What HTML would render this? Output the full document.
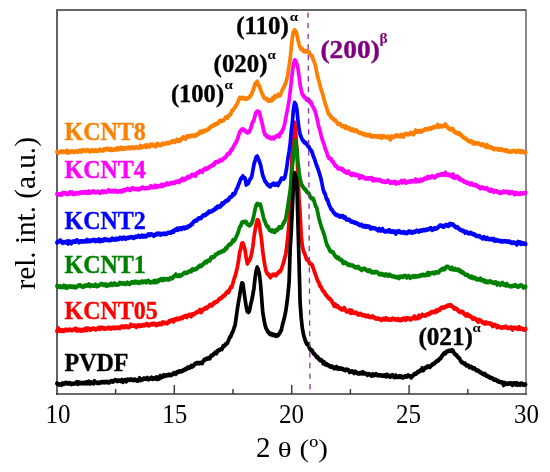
<!DOCTYPE html>
<html><head><meta charset="utf-8"><style>
html,body{margin:0;padding:0;background:#fff;width:550px;height:472px;overflow:hidden}
svg{display:block}
text{font-family:"Liberation Serif","DejaVu Serif",serif}
.b{font-weight:bold}
</style></head><body>
<svg width="550" height="472" viewBox="0 0 550 472">
<rect width="550" height="472" fill="#fff"/>
<g fill="none">
<line x1="57" y1="9" x2="57" y2="395" stroke="#5a5a5a" stroke-width="1.9"/>
<line x1="56" y1="10" x2="526.5" y2="10" stroke="#666" stroke-width="1.9"/>
<line x1="526" y1="10" x2="526" y2="394.8" stroke="#555" stroke-width="1.4"/>
<line x1="56" y1="394.1" x2="526.7" y2="394.1" stroke="#3a3a3a" stroke-width="1.5"/>
</g>
<g fill="none" stroke-width="3.7" stroke-linejoin="round" stroke-linecap="round" transform="scale(1,1.25)">
<path d="M57.00,121.46 L58.10,122.09 L59.20,122.02 L60.30,121.18 L61.40,121.28 L62.50,121.16 L63.60,121.68 L64.70,121.36 L65.80,121.73 L66.90,120.47 L68.00,122.09 L69.10,121.28 L70.20,121.63 L71.30,121.22 L72.40,121.08 L73.50,121.46 L74.60,121.61 L75.70,121.10 L76.80,121.10 L77.90,121.47 L79.00,120.70 L80.10,120.37 L81.20,121.25 L82.30,120.70 L83.40,120.06 L84.50,120.55 L85.60,120.67 L86.70,120.27 L87.80,120.08 L88.90,120.76 L90.00,121.11 L91.10,120.51 L92.20,120.21 L93.30,120.69 L94.40,120.79 L95.50,120.24 L96.60,120.58 L97.70,120.76 L98.80,120.10 L99.90,119.75 L101.00,120.25 L102.10,120.14 L103.20,120.49 L104.30,119.29 L105.40,119.53 L106.50,119.38 L107.60,118.89 L108.70,119.72 L109.80,119.85 L110.90,119.18 L112.00,120.13 L113.10,119.79 L114.20,119.63 L115.30,119.46 L116.40,119.66 L117.50,118.49 L118.60,119.35 L119.70,119.28 L120.80,118.07 L121.90,119.01 L123.00,118.65 L124.10,119.07 L125.20,118.40 L126.30,118.53 L127.40,118.62 L128.50,117.96 L129.60,118.58 L130.70,118.16 L131.80,118.37 L132.90,117.80 L134.00,118.48 L135.10,118.16 L136.20,117.70 L137.30,118.00 L138.40,118.21 L139.50,118.37 L140.60,116.66 L141.70,117.75 L142.80,117.45 L143.90,117.08 L145.00,116.55 L146.10,117.54 L147.20,116.23 L148.30,117.01 L149.40,117.26 L150.50,115.77 L151.60,116.29 L152.70,115.71 L153.80,116.35 L154.90,116.85 L156.00,116.99 L157.10,115.05 L158.20,115.51 L159.30,116.00 L160.40,116.29 L161.50,115.60 L162.60,114.91 L163.70,115.26 L164.80,114.96 L165.90,114.72 L167.00,114.29 L168.10,114.64 L169.20,114.40 L170.30,113.99 L171.40,113.70 L172.50,112.94 L173.60,113.07 L174.70,113.62 L175.80,112.69 L176.90,111.81 L178.00,112.85 L179.10,112.13 L180.20,112.53 L181.30,111.17 L182.40,110.54 L183.50,109.70 L184.60,110.68 L185.70,110.97 L186.80,109.09 L187.90,108.97 L189.00,109.40 L190.10,108.57 L191.20,108.71 L192.30,108.53 L193.40,108.63 L194.50,108.87 L195.60,108.10 L196.70,108.20 L197.80,107.15 L198.90,107.05 L200.00,105.40 L201.10,105.27 L202.20,105.90 L203.30,104.77 L204.40,104.86 L205.50,104.36 L206.60,104.25 L207.70,103.52 L208.80,103.15 L209.90,102.13 L211.00,101.37 L212.10,100.87 L213.20,100.50 L214.30,99.70 L215.40,99.47 L216.50,99.16 L217.60,98.79 L218.70,97.97 L219.80,96.68 L220.90,97.03 L222.00,96.62 L223.10,96.45 L224.20,95.59 L225.30,94.34 L226.40,93.59 L227.50,94.12 L228.60,92.60 L229.70,92.09 L230.80,91.14 L231.90,88.59 L233.00,88.00 L234.10,86.80 L235.20,85.56 L236.30,84.19 L237.40,82.55 L238.50,80.57 L239.60,78.27 L240.70,78.63 L241.80,78.25 L242.90,78.62 L244.00,78.36 L245.10,78.96 L246.20,79.11 L247.30,78.76 L248.40,78.36 L249.50,77.63 L250.60,76.59 L251.70,75.18 L252.80,72.70 L253.90,70.51 L255.00,67.47 L256.10,66.28 L257.20,65.43 L258.30,67.98 L259.40,69.03 L260.50,71.33 L261.60,73.91 L262.70,75.90 L263.80,77.89 L264.90,78.68 L266.00,79.00 L267.10,79.40 L268.20,80.68 L269.30,80.44 L270.40,80.21 L271.50,80.45 L272.60,78.51 L273.70,78.99 L274.80,76.83 L275.90,77.37 L277.00,77.04 L278.10,75.75 L279.20,76.32 L280.30,76.04 L281.40,73.79 L282.50,71.73 L283.60,70.13 L284.70,68.04 L285.80,66.04 L286.90,63.04 L288.00,59.19 L289.10,52.60 L290.20,46.82 L291.30,37.70 L292.40,29.63 L293.50,25.49 L294.60,24.21 L295.70,25.01 L296.80,27.20 L297.90,32.05 L299.00,35.04 L300.10,37.70 L301.20,39.31 L302.30,39.09 L303.40,40.88 L304.50,40.75 L305.60,41.21 L306.70,41.00 L307.80,41.15 L308.90,41.76 L310.00,43.23 L311.10,44.52 L312.20,45.09 L313.30,47.83 L314.40,49.96 L315.50,52.52 L316.60,57.41 L317.70,61.49 L318.80,64.51 L319.90,68.09 L321.00,71.42 L322.10,73.96 L323.20,76.81 L324.30,80.38 L325.40,83.25 L326.50,85.80 L327.60,88.79 L328.70,91.28 L329.80,91.83 L330.90,93.45 L332.00,94.43 L333.10,95.08 L334.20,96.02 L335.30,96.15 L336.40,97.50 L337.50,98.90 L338.60,99.04 L339.70,98.99 L340.80,100.12 L341.90,100.92 L343.00,100.95 L344.10,100.93 L345.20,102.34 L346.30,101.38 L347.40,102.59 L348.50,102.70 L349.60,102.49 L350.70,104.02 L351.80,103.95 L352.90,103.57 L354.00,104.76 L355.10,104.60 L356.20,104.21 L357.30,105.11 L358.40,105.87 L359.50,106.34 L360.60,106.39 L361.70,106.62 L362.80,107.10 L363.90,107.05 L365.00,107.98 L366.10,107.73 L367.20,108.04 L368.30,108.37 L369.40,107.80 L370.50,108.13 L371.60,109.37 L372.70,108.95 L373.80,108.80 L374.90,109.24 L376.00,108.97 L377.10,109.44 L378.20,109.08 L379.30,109.61 L380.40,108.78 L381.50,110.23 L382.60,109.40 L383.70,108.93 L384.80,109.63 L385.90,109.59 L387.00,109.88 L388.10,109.27 L389.20,110.03 L390.30,111.58 L391.40,109.17 L392.50,109.85 L393.60,109.39 L394.70,109.45 L395.80,108.29 L396.90,108.40 L398.00,108.96 L399.10,108.52 L400.20,109.16 L401.30,107.87 L402.40,108.14 L403.50,109.29 L404.60,107.37 L405.70,107.14 L406.80,107.39 L407.90,107.21 L409.00,107.46 L410.10,106.92 L411.20,106.29 L412.30,106.54 L413.40,107.47 L414.50,106.57 L415.60,104.38 L416.70,105.39 L417.80,104.79 L418.90,105.26 L420.00,104.64 L421.10,105.41 L422.20,104.67 L423.30,104.40 L424.40,103.81 L425.50,103.45 L426.60,103.39 L427.70,103.61 L428.80,103.03 L429.90,102.41 L431.00,103.02 L432.10,102.35 L433.20,102.07 L434.30,101.57 L435.40,101.49 L436.50,101.20 L437.60,99.88 L438.70,101.46 L439.80,101.09 L440.90,100.65 L442.00,101.21 L443.10,100.88 L444.20,100.82 L445.30,99.46 L446.40,100.77 L447.50,101.57 L448.60,102.63 L449.70,103.30 L450.80,103.65 L451.90,103.05 L453.00,103.24 L454.10,105.23 L455.20,105.55 L456.30,106.49 L457.40,106.42 L458.50,107.03 L459.60,106.69 L460.70,108.19 L461.80,108.41 L462.90,109.47 L464.00,110.21 L465.10,110.56 L466.20,111.37 L467.30,111.82 L468.40,112.75 L469.50,113.10 L470.60,112.97 L471.70,113.26 L472.80,114.66 L473.90,114.03 L475.00,114.79 L476.10,114.72 L477.20,114.48 L478.30,114.62 L479.40,115.28 L480.50,115.60 L481.60,116.05 L482.70,115.43 L483.80,116.04 L484.90,116.56 L486.00,117.66 L487.10,116.04 L488.20,117.65 L489.30,117.43 L490.40,118.13 L491.50,117.92 L492.60,118.56 L493.70,119.36 L494.80,118.99 L495.90,119.23 L497.00,119.40 L498.10,119.04 L499.20,119.83 L500.30,119.62 L501.40,119.47 L502.50,119.97 L503.60,120.00 L504.70,120.59 L505.80,120.32 L506.90,120.19 L508.00,121.24 L509.10,121.12 L510.20,121.35 L511.30,121.12 L512.40,120.85 L513.50,120.77 L514.60,120.91 L515.70,121.57 L516.80,121.24 L517.90,120.56 L519.00,121.33 L520.10,120.77 L521.20,121.64 L522.30,121.10 L523.40,121.21 L524.50,122.01 L525.60,122.07" stroke="#ff8000"/>
<path d="M57.00,155.20 L58.10,155.66 L59.20,155.47 L60.30,155.42 L61.40,155.80 L62.50,154.40 L63.60,154.64 L64.70,154.26 L65.80,154.80 L66.90,155.28 L68.00,154.75 L69.10,154.95 L70.20,153.75 L71.30,154.70 L72.40,154.15 L73.50,155.39 L74.60,154.92 L75.70,154.91 L76.80,154.38 L77.90,154.66 L79.00,154.64 L80.10,154.11 L81.20,153.99 L82.30,154.14 L83.40,153.86 L84.50,153.82 L85.60,153.93 L86.70,153.67 L87.80,154.35 L88.90,153.17 L90.00,154.29 L91.10,153.56 L92.20,153.55 L93.30,153.12 L94.40,153.66 L95.50,153.56 L96.60,153.73 L97.70,153.33 L98.80,153.58 L99.90,154.36 L101.00,153.64 L102.10,153.11 L103.20,153.79 L104.30,153.22 L105.40,153.51 L106.50,153.47 L107.60,152.93 L108.70,152.13 L109.80,152.83 L110.90,153.20 L112.00,152.70 L113.10,153.03 L114.20,153.22 L115.30,152.43 L116.40,153.22 L117.50,153.34 L118.60,153.01 L119.70,152.98 L120.80,152.88 L121.90,153.36 L123.00,152.30 L124.10,152.13 L125.20,152.35 L126.30,151.54 L127.40,151.15 L128.50,151.39 L129.60,151.91 L130.70,151.87 L131.80,150.82 L132.90,150.57 L134.00,151.23 L135.10,151.20 L136.20,151.17 L137.30,151.42 L138.40,151.59 L139.50,151.01 L140.60,151.10 L141.70,150.17 L142.80,150.03 L143.90,150.60 L145.00,150.70 L146.10,150.62 L147.20,150.45 L148.30,150.43 L149.40,150.33 L150.50,148.99 L151.60,149.37 L152.70,149.82 L153.80,149.77 L154.90,148.63 L156.00,149.79 L157.10,148.89 L158.20,148.85 L159.30,148.95 L160.40,149.03 L161.50,147.83 L162.60,148.84 L163.70,148.24 L164.80,147.66 L165.90,147.72 L167.00,146.62 L168.10,147.14 L169.20,147.31 L170.30,146.64 L171.40,146.56 L172.50,146.38 L173.60,146.20 L174.70,146.38 L175.80,145.59 L176.90,145.18 L178.00,145.27 L179.10,145.70 L180.20,144.21 L181.30,144.29 L182.40,142.95 L183.50,144.01 L184.60,143.33 L185.70,143.30 L186.80,142.28 L187.90,141.45 L189.00,142.01 L190.10,141.59 L191.20,140.44 L192.30,139.77 L193.40,140.31 L194.50,139.63 L195.60,140.57 L196.70,138.62 L197.80,138.25 L198.90,138.02 L200.00,136.85 L201.10,136.78 L202.20,137.55 L203.30,136.24 L204.40,135.55 L205.50,134.76 L206.60,135.17 L207.70,134.73 L208.80,134.03 L209.90,133.21 L211.00,133.02 L212.10,132.53 L213.20,131.49 L214.30,131.58 L215.40,129.74 L216.50,129.62 L217.60,129.58 L218.70,129.19 L219.80,128.20 L220.90,128.41 L222.00,128.19 L223.10,127.25 L224.20,126.42 L225.30,125.93 L226.40,124.90 L227.50,123.29 L228.60,122.83 L229.70,122.56 L230.80,120.33 L231.90,119.74 L233.00,118.22 L234.10,116.49 L235.20,114.80 L236.30,113.52 L237.40,111.34 L238.50,108.86 L239.60,105.85 L240.70,104.74 L241.80,103.62 L242.90,103.52 L244.00,103.86 L245.10,104.61 L246.20,105.40 L247.30,106.00 L248.40,105.61 L249.50,105.27 L250.60,102.90 L251.70,99.82 L252.80,97.51 L253.90,96.32 L255.00,92.48 L256.10,90.02 L257.20,89.20 L258.30,89.39 L259.40,90.02 L260.50,93.76 L261.60,96.90 L262.70,100.62 L263.80,104.70 L264.90,107.42 L266.00,108.19 L267.10,109.26 L268.20,109.79 L269.30,109.65 L270.40,110.38 L271.50,110.66 L272.60,110.16 L273.70,110.76 L274.80,109.81 L275.90,109.35 L277.00,108.59 L278.10,108.43 L279.20,109.05 L280.30,106.64 L281.40,106.08 L282.50,104.14 L283.60,102.43 L284.70,99.16 L285.80,94.45 L286.90,89.85 L288.00,85.44 L289.10,80.12 L290.20,73.58 L291.30,65.22 L292.40,57.27 L293.50,51.69 L294.60,48.37 L295.70,48.78 L296.80,51.31 L297.90,54.36 L299.00,60.68 L300.10,67.64 L301.20,71.87 L302.30,75.36 L303.40,76.47 L304.50,77.81 L305.60,78.43 L306.70,80.01 L307.80,79.74 L308.90,79.81 L310.00,82.00 L311.10,81.86 L312.20,84.42 L313.30,86.02 L314.40,87.64 L315.50,89.84 L316.60,93.52 L317.70,97.20 L318.80,101.73 L319.90,103.80 L321.00,107.93 L322.10,111.30 L323.20,113.83 L324.30,115.95 L325.40,119.20 L326.50,121.35 L327.60,124.23 L328.70,126.15 L329.80,126.83 L330.90,127.01 L332.00,128.88 L333.10,129.53 L334.20,131.25 L335.30,132.62 L336.40,132.78 L337.50,134.37 L338.60,134.83 L339.70,135.07 L340.80,134.84 L341.90,135.84 L343.00,135.54 L344.10,137.16 L345.20,137.12 L346.30,138.10 L347.40,137.95 L348.50,137.23 L349.60,138.81 L350.70,139.29 L351.80,139.97 L352.90,139.03 L354.00,139.36 L355.10,140.14 L356.20,139.89 L357.30,140.00 L358.40,140.40 L359.50,142.41 L360.60,141.08 L361.70,141.10 L362.80,141.57 L363.90,141.97 L365.00,142.77 L366.10,142.78 L367.20,142.87 L368.30,142.68 L369.40,142.91 L370.50,142.70 L371.60,142.46 L372.70,144.34 L373.80,143.32 L374.90,144.20 L376.00,143.73 L377.10,144.00 L378.20,144.13 L379.30,143.69 L380.40,144.46 L381.50,144.83 L382.60,145.19 L383.70,145.17 L384.80,145.57 L385.90,145.35 L387.00,145.33 L388.10,144.49 L389.20,145.26 L390.30,146.32 L391.40,145.69 L392.50,146.06 L393.60,145.63 L394.70,145.45 L395.80,146.79 L396.90,146.01 L398.00,146.58 L399.10,146.13 L400.20,145.74 L401.30,144.78 L402.40,145.86 L403.50,144.99 L404.60,144.59 L405.70,146.16 L406.80,145.81 L407.90,145.66 L409.00,145.27 L410.10,145.13 L411.20,145.26 L412.30,145.03 L413.40,144.89 L414.50,145.11 L415.60,143.46 L416.70,144.95 L417.80,144.09 L418.90,144.67 L420.00,144.68 L421.10,143.54 L422.20,144.12 L423.30,143.89 L424.40,142.92 L425.50,142.75 L426.60,142.80 L427.70,141.42 L428.80,142.04 L429.90,142.12 L431.00,141.61 L432.10,140.87 L433.20,141.27 L434.30,141.99 L435.40,141.68 L436.50,140.71 L437.60,140.08 L438.70,140.17 L439.80,139.96 L440.90,139.46 L442.00,139.45 L443.10,139.77 L444.20,139.83 L445.30,138.19 L446.40,139.89 L447.50,139.60 L448.60,140.24 L449.70,139.86 L450.80,140.33 L451.90,141.31 L453.00,139.59 L454.10,142.27 L455.20,142.00 L456.30,141.36 L457.40,141.25 L458.50,142.98 L459.60,142.66 L460.70,144.01 L461.80,144.05 L462.90,144.32 L464.00,145.30 L465.10,145.33 L466.20,145.98 L467.30,146.40 L468.40,146.52 L469.50,147.10 L470.60,147.45 L471.70,146.76 L472.80,147.63 L473.90,148.05 L475.00,148.26 L476.10,148.01 L477.20,148.82 L478.30,149.56 L479.40,149.78 L480.50,150.70 L481.60,149.94 L482.70,150.29 L483.80,150.47 L484.90,150.84 L486.00,150.94 L487.10,150.56 L488.20,151.84 L489.30,152.35 L490.40,152.61 L491.50,151.73 L492.60,152.35 L493.70,153.50 L494.80,152.73 L495.90,153.11 L497.00,153.02 L498.10,153.72 L499.20,153.82 L500.30,154.59 L501.40,153.81 L502.50,153.87 L503.60,153.15 L504.70,153.61 L505.80,153.55 L506.90,153.80 L508.00,153.39 L509.10,154.68 L510.20,153.67 L511.30,154.40 L512.40,153.76 L513.50,154.64 L514.60,155.37 L515.70,154.28 L516.80,154.93 L517.90,154.79 L519.00,155.00 L520.10,155.08 L521.20,154.57 L522.30,154.79 L523.40,154.60 L524.50,154.48 L525.60,154.29" stroke="#ff00ff"/>
<path d="M57.00,264.96 L58.10,262.59 L59.20,264.52 L60.30,264.08 L61.40,264.67 L62.50,264.21 L63.60,264.88 L64.70,264.00 L65.80,263.72 L66.90,264.23 L68.00,264.14 L69.10,263.74 L70.20,263.77 L71.30,264.21 L72.40,264.18 L73.50,263.58 L74.60,263.61 L75.70,262.89 L76.80,264.54 L77.90,263.60 L79.00,264.32 L80.10,263.85 L81.20,264.55 L82.30,264.32 L83.40,263.70 L84.50,264.22 L85.60,263.02 L86.70,264.04 L87.80,262.68 L88.90,263.51 L90.00,263.81 L91.10,263.36 L92.20,263.03 L93.30,262.77 L94.40,262.94 L95.50,263.56 L96.60,263.43 L97.70,262.83 L98.80,262.30 L99.90,263.17 L101.00,262.10 L102.10,262.49 L103.20,262.34 L104.30,263.00 L105.40,262.70 L106.50,262.75 L107.60,262.60 L108.70,262.08 L109.80,262.60 L110.90,262.96 L112.00,262.20 L113.10,262.46 L114.20,262.03 L115.30,262.52 L116.40,262.28 L117.50,262.32 L118.60,262.00 L119.70,262.55 L120.80,261.53 L121.90,261.48 L123.00,261.29 L124.10,261.80 L125.20,261.14 L126.30,261.07 L127.40,261.66 L128.50,261.81 L129.60,261.46 L130.70,259.83 L131.80,260.59 L132.90,260.47 L134.00,260.34 L135.10,260.65 L136.20,261.65 L137.30,260.56 L138.40,260.28 L139.50,260.90 L140.60,260.52 L141.70,260.47 L142.80,260.00 L143.90,260.25 L145.00,260.37 L146.10,259.17 L147.20,259.23 L148.30,260.44 L149.40,260.24 L150.50,259.51 L151.60,259.18 L152.70,259.50 L153.80,258.92 L154.90,259.24 L156.00,260.10 L157.10,259.27 L158.20,259.66 L159.30,258.88 L160.40,259.05 L161.50,259.41 L162.60,257.97 L163.70,258.31 L164.80,258.26 L165.90,258.31 L167.00,258.74 L168.10,258.09 L169.20,256.78 L170.30,257.07 L171.40,256.46 L172.50,256.12 L173.60,257.20 L174.70,255.39 L175.80,255.71 L176.90,254.96 L178.00,255.45 L179.10,254.95 L180.20,254.60 L181.30,254.26 L182.40,254.60 L183.50,253.36 L184.60,253.20 L185.70,252.75 L186.80,253.65 L187.90,252.58 L189.00,251.93 L190.10,251.92 L191.20,253.01 L192.30,251.44 L193.40,251.57 L194.50,251.04 L195.60,250.46 L196.70,249.77 L197.80,249.56 L198.90,249.16 L200.00,247.86 L201.10,249.74 L202.20,248.51 L203.30,247.67 L204.40,247.05 L205.50,246.29 L206.60,246.64 L207.70,245.59 L208.80,245.37 L209.90,243.92 L211.00,244.20 L212.10,244.39 L213.20,242.69 L214.30,242.61 L215.40,241.63 L216.50,241.53 L217.60,240.90 L218.70,239.82 L219.80,238.91 L220.90,238.67 L222.00,237.86 L223.10,236.80 L224.20,236.53 L225.30,235.68 L226.40,234.12 L227.50,233.47 L228.60,233.81 L229.70,231.55 L230.80,229.82 L231.90,229.43 L233.00,226.24 L234.10,223.15 L235.20,220.79 L236.30,217.28 L237.40,213.71 L238.50,208.83 L239.60,202.02 L240.70,199.11 L241.80,194.79 L242.90,194.65 L244.00,196.81 L245.10,200.10 L246.20,206.32 L247.30,210.84 L248.40,209.42 L249.50,208.21 L250.60,206.12 L251.70,202.60 L252.80,197.49 L253.90,190.26 L255.00,184.35 L256.10,180.02 L257.20,176.15 L258.30,176.34 L259.40,179.79 L260.50,186.11 L261.60,191.89 L262.70,200.73 L263.80,207.26 L264.90,212.44 L266.00,216.75 L267.10,218.71 L268.20,219.30 L269.30,220.52 L270.40,221.84 L271.50,220.64 L272.60,219.80 L273.70,219.74 L274.80,219.85 L275.90,220.25 L277.00,219.22 L278.10,218.21 L279.20,217.32 L280.30,216.99 L281.40,215.27 L282.50,212.70 L283.60,209.98 L284.70,206.24 L285.80,203.40 L286.90,195.93 L288.00,188.51 L289.10,176.80 L290.20,163.59 L291.30,141.32 L292.40,114.70 L293.50,104.26 L294.60,97.94 L295.70,105.16 L296.80,119.33 L297.90,140.19 L299.00,158.50 L300.10,170.56 L301.20,188.19 L302.30,196.46 L303.40,201.04 L304.50,202.29 L305.60,205.23 L306.70,207.67 L307.80,207.84 L308.90,209.31 L310.00,211.00 L311.10,211.49 L312.20,212.06 L313.30,214.71 L314.40,217.17 L315.50,219.66 L316.60,222.17 L317.70,224.63 L318.80,226.01 L319.90,228.59 L321.00,229.56 L322.10,231.54 L323.20,232.85 L324.30,233.50 L325.40,235.48 L326.50,236.54 L327.60,237.42 L328.70,238.68 L329.80,238.98 L330.90,239.88 L332.00,241.33 L333.10,242.96 L334.20,244.68 L335.30,243.65 L336.40,245.16 L337.50,244.77 L338.60,245.85 L339.70,246.57 L340.80,246.81 L341.90,247.60 L343.00,247.60 L344.10,246.42 L345.20,247.48 L346.30,249.03 L347.40,249.29 L348.50,248.86 L349.60,248.33 L350.70,250.39 L351.80,248.62 L352.90,250.05 L354.00,250.15 L355.10,250.56 L356.20,250.14 L357.30,250.77 L358.40,251.73 L359.50,251.22 L360.60,251.03 L361.70,251.91 L362.80,252.19 L363.90,252.30 L365.00,252.20 L366.10,253.05 L367.20,252.93 L368.30,252.62 L369.40,253.48 L370.50,253.55 L371.60,253.81 L372.70,253.11 L373.80,253.74 L374.90,254.50 L376.00,254.89 L377.10,254.76 L378.20,254.81 L379.30,255.21 L380.40,255.44 L381.50,255.92 L382.60,255.39 L383.70,254.99 L384.80,255.58 L385.90,254.50 L387.00,255.53 L388.10,255.34 L389.20,255.57 L390.30,255.82 L391.40,255.61 L392.50,254.89 L393.60,255.42 L394.70,255.21 L395.80,255.58 L396.90,255.77 L398.00,255.13 L399.10,255.95 L400.20,256.22 L401.30,255.45 L402.40,255.89 L403.50,254.78 L404.60,255.16 L405.70,255.80 L406.80,254.40 L407.90,254.90 L409.00,254.62 L410.10,255.50 L411.20,255.39 L412.30,254.42 L413.40,254.64 L414.50,253.18 L415.60,254.68 L416.70,254.27 L417.80,254.55 L418.90,252.58 L420.00,253.68 L421.10,253.12 L422.20,251.78 L423.30,252.42 L424.40,252.41 L425.50,252.51 L426.60,251.88 L427.70,251.19 L428.80,251.31 L429.90,250.70 L431.00,250.09 L432.10,249.54 L433.20,249.72 L434.30,249.33 L435.40,249.75 L436.50,248.24 L437.60,248.83 L438.70,247.83 L439.80,247.83 L440.90,246.45 L442.00,246.08 L443.10,245.96 L444.20,246.15 L445.30,245.41 L446.40,245.18 L447.50,244.48 L448.60,244.52 L449.70,244.15 L450.80,244.11 L451.90,245.09 L453.00,245.47 L454.10,246.87 L455.20,246.50 L456.30,247.19 L457.40,247.59 L458.50,248.90 L459.60,249.34 L460.70,249.76 L461.80,249.33 L462.90,249.67 L464.00,250.98 L465.10,251.67 L466.20,252.52 L467.30,251.44 L468.40,252.70 L469.50,252.43 L470.60,253.21 L471.70,253.97 L472.80,254.94 L473.90,254.61 L475.00,254.90 L476.10,255.45 L477.20,256.56 L478.30,257.46 L479.40,255.89 L480.50,256.81 L481.60,257.04 L482.70,258.09 L483.80,258.02 L484.90,258.82 L486.00,257.86 L487.10,258.61 L488.20,258.65 L489.30,258.59 L490.40,259.30 L491.50,259.07 L492.60,260.94 L493.70,260.37 L494.80,259.94 L495.90,260.39 L497.00,261.74 L498.10,260.90 L499.20,261.65 L500.30,261.76 L501.40,262.16 L502.50,262.08 L503.60,261.81 L504.70,261.75 L505.80,261.29 L506.90,262.23 L508.00,262.41 L509.10,262.25 L510.20,262.42 L511.30,261.96 L512.40,263.63 L513.50,262.39 L514.60,262.17 L515.70,262.41 L516.80,262.65 L517.90,263.13 L519.00,261.66 L520.10,263.13 L521.20,262.68 L522.30,263.00 L523.40,263.71 L524.50,263.75 L525.60,263.21" stroke="#ff0000"/>
<path d="M57.00,194.17 L58.10,193.34 L59.20,193.03 L60.30,192.35 L61.40,193.55 L62.50,194.29 L63.60,193.67 L64.70,193.87 L65.80,194.08 L66.90,193.13 L68.00,194.79 L69.10,193.06 L70.20,193.62 L71.30,194.72 L72.40,193.31 L73.50,193.38 L74.60,193.04 L75.70,193.41 L76.80,192.18 L77.90,192.85 L79.00,193.93 L80.10,193.18 L81.20,192.92 L82.30,193.17 L83.40,193.14 L84.50,192.97 L85.60,193.12 L86.70,192.00 L87.80,193.03 L88.90,192.37 L90.00,193.02 L91.10,192.58 L92.20,192.05 L93.30,192.44 L94.40,191.94 L95.50,192.85 L96.60,192.30 L97.70,192.66 L98.80,191.66 L99.90,192.92 L101.00,191.94 L102.10,192.68 L103.20,192.37 L104.30,191.38 L105.40,192.00 L106.50,191.53 L107.60,191.93 L108.70,192.36 L109.80,191.94 L110.90,192.06 L112.00,190.92 L113.10,191.52 L114.20,191.52 L115.30,191.81 L116.40,190.92 L117.50,191.42 L118.60,191.28 L119.70,190.27 L120.80,190.42 L121.90,191.06 L123.00,190.20 L124.10,190.09 L125.20,191.01 L126.30,190.63 L127.40,190.28 L128.50,190.34 L129.60,189.98 L130.70,189.81 L131.80,189.74 L132.90,190.03 L134.00,190.36 L135.10,189.39 L136.20,189.47 L137.30,189.28 L138.40,188.67 L139.50,189.28 L140.60,189.46 L141.70,188.53 L142.80,189.23 L143.90,188.45 L145.00,189.18 L146.10,189.12 L147.20,188.27 L148.30,187.41 L149.40,188.12 L150.50,187.54 L151.60,187.50 L152.70,187.94 L153.80,188.64 L154.90,187.86 L156.00,187.72 L157.10,186.85 L158.20,187.36 L159.30,186.89 L160.40,187.70 L161.50,187.09 L162.60,187.21 L163.70,187.09 L164.80,186.87 L165.90,187.27 L167.00,186.86 L168.10,186.23 L169.20,186.16 L170.30,186.02 L171.40,186.06 L172.50,185.09 L173.60,185.36 L174.70,184.03 L175.80,183.88 L176.90,182.99 L178.00,183.86 L179.10,182.76 L180.20,182.57 L181.30,183.29 L182.40,182.45 L183.50,182.15 L184.60,182.75 L185.70,181.95 L186.80,182.18 L187.90,181.15 L189.00,181.12 L190.10,180.60 L191.20,179.36 L192.30,179.40 L193.40,177.58 L194.50,176.98 L195.60,176.53 L196.70,176.43 L197.80,175.29 L198.90,174.71 L200.00,174.54 L201.10,174.50 L202.20,173.17 L203.30,172.21 L204.40,172.21 L205.50,172.02 L206.60,170.92 L207.70,170.70 L208.80,169.21 L209.90,169.60 L211.00,169.12 L212.10,168.85 L213.20,168.18 L214.30,167.88 L215.40,166.51 L216.50,166.80 L217.60,165.18 L218.70,165.16 L219.80,165.41 L220.90,164.69 L222.00,162.74 L223.10,163.22 L224.20,162.02 L225.30,161.12 L226.40,160.85 L227.50,160.08 L228.60,159.99 L229.70,157.93 L230.80,157.68 L231.90,156.99 L233.00,155.23 L234.10,155.52 L235.20,154.39 L236.30,151.62 L237.40,150.27 L238.50,147.63 L239.60,145.71 L240.70,143.13 L241.80,142.22 L242.90,141.06 L244.00,142.44 L245.10,142.57 L246.20,147.66 L247.30,147.06 L248.40,146.36 L249.50,143.94 L250.60,143.03 L251.70,141.41 L252.80,136.53 L253.90,131.72 L255.00,128.73 L256.10,125.78 L257.20,125.15 L258.30,127.17 L259.40,129.18 L260.50,131.68 L261.60,135.89 L262.70,140.22 L263.80,142.26 L264.90,144.93 L266.00,145.74 L267.10,147.39 L268.20,147.70 L269.30,148.84 L270.40,149.08 L271.50,147.83 L272.60,147.41 L273.70,146.81 L274.80,147.75 L275.90,147.72 L277.00,146.98 L278.10,148.00 L279.20,146.27 L280.30,144.86 L281.40,142.92 L282.50,142.80 L283.60,143.00 L284.70,142.26 L285.80,138.33 L286.90,132.99 L288.00,126.48 L289.10,121.07 L290.20,114.96 L291.30,104.35 L292.40,97.69 L293.50,86.79 L294.60,82.24 L295.70,83.29 L296.80,87.18 L297.90,95.74 L299.00,103.12 L300.10,107.47 L301.20,109.71 L302.30,111.83 L303.40,112.74 L304.50,114.10 L305.60,114.17 L306.70,115.30 L307.80,116.71 L308.90,117.54 L310.00,119.42 L311.10,120.36 L312.20,121.92 L313.30,124.98 L314.40,126.90 L315.50,129.70 L316.60,132.29 L317.70,134.47 L318.80,137.07 L319.90,139.96 L321.00,142.96 L322.10,147.36 L323.20,151.68 L324.30,154.16 L325.40,155.70 L326.50,159.31 L327.60,159.91 L328.70,162.96 L329.80,164.99 L330.90,167.05 L332.00,167.72 L333.10,169.54 L334.20,170.37 L335.30,171.64 L336.40,171.79 L337.50,172.19 L338.60,172.50 L339.70,173.31 L340.80,172.90 L341.90,173.34 L343.00,172.91 L344.10,174.21 L345.20,173.85 L346.30,175.48 L347.40,175.67 L348.50,175.71 L349.60,176.05 L350.70,176.94 L351.80,177.40 L352.90,177.42 L354.00,177.86 L355.10,178.19 L356.20,178.39 L357.30,178.84 L358.40,179.35 L359.50,180.13 L360.60,180.09 L361.70,179.79 L362.80,181.10 L363.90,181.15 L365.00,180.71 L366.10,181.56 L367.20,181.06 L368.30,181.18 L369.40,181.42 L370.50,182.76 L371.60,182.27 L372.70,182.56 L373.80,182.64 L374.90,182.61 L376.00,183.23 L377.10,183.51 L378.20,184.31 L379.30,183.14 L380.40,184.46 L381.50,184.22 L382.60,183.25 L383.70,184.72 L384.80,185.19 L385.90,185.10 L387.00,184.85 L388.10,184.96 L389.20,184.07 L390.30,185.29 L391.40,185.35 L392.50,184.95 L393.60,185.62 L394.70,185.33 L395.80,186.84 L396.90,185.27 L398.00,185.49 L399.10,184.93 L400.20,185.78 L401.30,186.03 L402.40,185.97 L403.50,185.66 L404.60,186.38 L405.70,186.08 L406.80,186.53 L407.90,185.91 L409.00,185.11 L410.10,185.89 L411.20,185.44 L412.30,186.24 L413.40,185.44 L414.50,185.47 L415.60,185.41 L416.70,184.52 L417.80,184.88 L418.90,185.32 L420.00,184.47 L421.10,184.51 L422.20,184.52 L423.30,183.96 L424.40,183.98 L425.50,184.17 L426.60,183.61 L427.70,183.65 L428.80,183.40 L429.90,182.80 L431.00,182.53 L432.10,183.96 L433.20,183.52 L434.30,182.64 L435.40,182.94 L436.50,182.71 L437.60,182.27 L438.70,181.28 L439.80,180.48 L440.90,180.37 L442.00,180.69 L443.10,181.31 L444.20,181.27 L445.30,180.25 L446.40,180.01 L447.50,180.53 L448.60,180.73 L449.70,179.12 L450.80,179.65 L451.90,179.44 L453.00,179.63 L454.10,180.57 L455.20,181.31 L456.30,181.95 L457.40,181.63 L458.50,182.75 L459.60,183.52 L460.70,183.93 L461.80,184.39 L462.90,184.60 L464.00,184.96 L465.10,186.18 L466.20,185.51 L467.30,185.99 L468.40,186.82 L469.50,186.54 L470.60,186.20 L471.70,186.84 L472.80,187.18 L473.90,187.59 L475.00,187.73 L476.10,188.69 L477.20,188.82 L478.30,188.97 L479.40,188.81 L480.50,189.74 L481.60,189.98 L482.70,190.81 L483.80,189.73 L484.90,190.22 L486.00,191.17 L487.10,190.23 L488.20,191.09 L489.30,191.28 L490.40,191.40 L491.50,191.10 L492.60,191.74 L493.70,191.18 L494.80,192.62 L495.90,191.97 L497.00,192.42 L498.10,192.48 L499.20,192.72 L500.30,192.84 L501.40,193.13 L502.50,192.90 L503.60,193.24 L504.70,192.84 L505.80,193.00 L506.90,193.23 L508.00,193.27 L509.10,193.20 L510.20,193.65 L511.30,194.32 L512.40,194.29 L513.50,193.95 L514.60,194.36 L515.70,194.44 L516.80,195.60 L517.90,193.62 L519.00,194.55 L520.10,193.87 L521.20,195.17 L522.30,194.54 L523.40,194.93 L524.50,194.89 L525.60,195.20" stroke="#0000ff"/>
<path d="M57.00,228.75 L58.10,228.98 L59.20,229.60 L60.30,229.14 L61.40,229.63 L62.50,229.74 L63.60,228.64 L64.70,229.80 L65.80,229.00 L66.90,230.27 L68.00,229.59 L69.10,228.96 L70.20,229.29 L71.30,229.27 L72.40,229.30 L73.50,229.78 L74.60,229.34 L75.70,229.85 L76.80,229.33 L77.90,228.91 L79.00,228.23 L80.10,228.18 L81.20,228.99 L82.30,229.19 L83.40,229.52 L84.50,228.49 L85.60,228.78 L86.70,228.31 L87.80,228.46 L88.90,227.52 L90.00,228.93 L91.10,228.18 L92.20,228.45 L93.30,228.65 L94.40,228.55 L95.50,227.71 L96.60,229.02 L97.70,228.60 L98.80,228.42 L99.90,227.82 L101.00,227.31 L102.10,227.24 L103.20,227.87 L104.30,227.99 L105.40,227.51 L106.50,228.66 L107.60,227.87 L108.70,228.13 L109.80,228.02 L110.90,227.01 L112.00,227.93 L113.10,227.60 L114.20,226.70 L115.30,227.59 L116.40,227.69 L117.50,227.57 L118.60,227.54 L119.70,226.29 L120.80,226.78 L121.90,226.57 L123.00,226.80 L124.10,226.76 L125.20,227.19 L126.30,226.95 L127.40,226.14 L128.50,226.91 L129.60,227.20 L130.70,226.52 L131.80,225.59 L132.90,225.95 L134.00,226.11 L135.10,225.36 L136.20,226.02 L137.30,225.41 L138.40,226.34 L139.50,226.22 L140.60,225.79 L141.70,225.16 L142.80,225.82 L143.90,225.30 L145.00,225.20 L146.10,225.98 L147.20,225.00 L148.30,224.62 L149.40,225.57 L150.50,225.96 L151.60,225.79 L152.70,225.29 L153.80,225.82 L154.90,224.54 L156.00,225.65 L157.10,225.50 L158.20,224.21 L159.30,224.45 L160.40,223.51 L161.50,223.50 L162.60,224.12 L163.70,223.14 L164.80,223.64 L165.90,223.60 L167.00,223.25 L168.10,223.43 L169.20,223.63 L170.30,222.49 L171.40,222.58 L172.50,222.49 L173.60,221.23 L174.70,220.80 L175.80,219.64 L176.90,220.72 L178.00,220.75 L179.10,220.19 L180.20,220.73 L181.30,220.19 L182.40,219.59 L183.50,218.92 L184.60,218.24 L185.70,218.43 L186.80,218.31 L187.90,217.72 L189.00,217.27 L190.10,216.88 L191.20,217.03 L192.30,215.49 L193.40,215.76 L194.50,215.53 L195.60,215.38 L196.70,214.91 L197.80,213.95 L198.90,213.25 L200.00,212.41 L201.10,212.97 L202.20,212.11 L203.30,211.31 L204.40,210.23 L205.50,209.39 L206.60,209.85 L207.70,208.65 L208.80,208.26 L209.90,208.28 L211.00,206.06 L212.10,205.80 L213.20,205.74 L214.30,205.24 L215.40,203.82 L216.50,203.65 L217.60,202.77 L218.70,202.17 L219.80,202.03 L220.90,201.38 L222.00,201.35 L223.10,200.61 L224.20,200.56 L225.30,198.94 L226.40,198.93 L227.50,197.32 L228.60,196.29 L229.70,195.39 L230.80,195.32 L231.90,194.02 L233.00,192.18 L234.10,192.65 L235.20,191.39 L236.30,189.36 L237.40,187.32 L238.50,185.10 L239.60,181.84 L240.70,180.88 L241.80,178.18 L242.90,177.84 L244.00,177.65 L245.10,177.44 L246.20,177.68 L247.30,179.33 L248.40,179.69 L249.50,180.29 L250.60,179.73 L251.70,178.84 L252.80,175.87 L253.90,172.03 L255.00,167.92 L256.10,164.23 L257.20,163.14 L258.30,163.65 L259.40,163.55 L260.50,163.61 L261.60,167.62 L262.70,171.00 L263.80,175.04 L264.90,177.04 L266.00,179.54 L267.10,181.09 L268.20,181.57 L269.30,183.81 L270.40,184.27 L271.50,184.87 L272.60,184.29 L273.70,185.38 L274.80,185.61 L275.90,184.14 L277.00,184.19 L278.10,183.16 L279.20,181.76 L280.30,182.16 L281.40,182.10 L282.50,180.33 L283.60,178.27 L284.70,177.11 L285.80,174.70 L286.90,169.45 L288.00,163.89 L289.10,157.78 L290.20,152.08 L291.30,143.76 L292.40,132.39 L293.50,124.88 L294.60,115.55 L295.70,112.73 L296.80,119.05 L297.90,129.28 L299.00,137.14 L300.10,142.81 L301.20,146.78 L302.30,148.62 L303.40,149.98 L304.50,151.14 L305.60,151.73 L306.70,153.47 L307.80,154.08 L308.90,154.85 L310.00,157.00 L311.10,158.51 L312.20,158.69 L313.30,158.99 L314.40,161.58 L315.50,164.44 L316.60,165.99 L317.70,169.92 L318.80,174.09 L319.90,177.51 L321.00,180.41 L322.10,183.10 L323.20,185.59 L324.30,187.99 L325.40,191.58 L326.50,194.88 L327.60,196.81 L328.70,198.24 L329.80,200.38 L330.90,201.26 L332.00,201.38 L333.10,201.93 L334.20,203.69 L335.30,204.87 L336.40,205.75 L337.50,206.45 L338.60,206.03 L339.70,207.46 L340.80,207.84 L341.90,208.23 L343.00,210.39 L344.10,209.63 L345.20,210.24 L346.30,210.44 L347.40,211.36 L348.50,212.02 L349.60,211.72 L350.70,212.22 L351.80,212.38 L352.90,212.45 L354.00,213.18 L355.10,213.75 L356.20,213.90 L357.30,214.06 L358.40,213.57 L359.50,214.91 L360.60,215.10 L361.70,216.03 L362.80,215.24 L363.90,215.14 L365.00,215.12 L366.10,215.98 L367.20,216.50 L368.30,216.88 L369.40,216.22 L370.50,216.94 L371.60,217.91 L372.70,217.67 L373.80,217.69 L374.90,217.88 L376.00,217.50 L377.10,217.78 L378.20,218.39 L379.30,219.42 L380.40,219.56 L381.50,219.11 L382.60,219.66 L383.70,219.73 L384.80,220.25 L385.90,219.51 L387.00,220.13 L388.10,220.61 L389.20,219.68 L390.30,220.39 L391.40,220.69 L392.50,220.92 L393.60,221.13 L394.70,221.31 L395.80,221.64 L396.90,221.94 L398.00,221.55 L399.10,222.48 L400.20,221.21 L401.30,221.34 L402.40,221.59 L403.50,221.06 L404.60,220.73 L405.70,220.81 L406.80,222.00 L407.90,221.12 L409.00,220.80 L410.10,222.35 L411.20,221.60 L412.30,221.48 L413.40,220.86 L414.50,221.38 L415.60,220.91 L416.70,221.17 L417.80,220.93 L418.90,220.72 L420.00,220.82 L421.10,220.14 L422.20,220.20 L423.30,219.82 L424.40,220.17 L425.50,220.09 L426.60,219.89 L427.70,218.34 L428.80,219.86 L429.90,218.70 L431.00,218.55 L432.10,218.40 L433.20,218.22 L434.30,218.68 L435.40,217.97 L436.50,217.86 L437.60,217.96 L438.70,217.90 L439.80,216.52 L440.90,216.11 L442.00,215.39 L443.10,214.94 L444.20,215.46 L445.30,214.69 L446.40,213.47 L447.50,213.41 L448.60,213.76 L449.70,214.64 L450.80,215.18 L451.90,214.24 L453.00,215.58 L454.10,215.63 L455.20,215.04 L456.30,215.85 L457.40,215.94 L458.50,215.74 L459.60,216.99 L460.70,216.63 L461.80,217.90 L462.90,217.88 L464.00,218.70 L465.10,219.71 L466.20,219.84 L467.30,219.85 L468.40,220.77 L469.50,221.38 L470.60,221.85 L471.70,221.30 L472.80,222.53 L473.90,222.18 L475.00,222.26 L476.10,223.33 L477.20,223.31 L478.30,223.57 L479.40,223.54 L480.50,222.85 L481.60,224.17 L482.70,224.44 L483.80,224.34 L484.90,225.42 L486.00,224.89 L487.10,225.84 L488.20,225.79 L489.30,225.10 L490.40,225.20 L491.50,225.62 L492.60,225.92 L493.70,226.43 L494.80,225.97 L495.90,225.91 L497.00,227.59 L498.10,226.73 L499.20,227.01 L500.30,227.87 L501.40,227.26 L502.50,226.28 L503.60,227.81 L504.70,227.47 L505.80,228.43 L506.90,227.26 L508.00,228.35 L509.10,228.75 L510.20,229.12 L511.30,228.95 L512.40,228.97 L513.50,228.55 L514.60,228.57 L515.70,228.12 L516.80,229.09 L517.90,229.40 L519.00,228.99 L520.10,228.34 L521.20,228.20 L522.30,228.81 L523.40,230.04 L524.50,229.64 L525.60,229.39" stroke="#008000"/>
<path d="M57.00,306.75 L58.10,307.33 L59.20,307.51 L60.30,307.49 L61.40,307.85 L62.50,306.77 L63.60,307.20 L64.70,306.74 L65.80,306.21 L66.90,306.53 L68.00,306.91 L69.10,306.38 L70.20,306.70 L71.30,307.30 L72.40,307.01 L73.50,306.98 L74.60,306.85 L75.70,306.57 L76.80,305.72 L77.90,307.07 L79.00,305.84 L80.10,306.63 L81.20,306.44 L82.30,306.53 L83.40,306.54 L84.50,306.22 L85.60,306.78 L86.70,305.69 L87.80,306.64 L88.90,305.41 L90.00,306.74 L91.10,305.88 L92.20,306.26 L93.30,306.76 L94.40,304.95 L95.50,305.79 L96.60,306.16 L97.70,306.27 L98.80,306.44 L99.90,306.02 L101.00,305.93 L102.10,305.68 L103.20,305.70 L104.30,305.54 L105.40,305.93 L106.50,305.46 L107.60,305.64 L108.70,306.03 L109.80,305.75 L110.90,304.95 L112.00,305.00 L113.10,305.33 L114.20,304.60 L115.30,303.96 L116.40,304.29 L117.50,304.96 L118.60,304.53 L119.70,304.40 L120.80,304.86 L121.90,303.93 L123.00,305.46 L124.10,304.32 L125.20,304.09 L126.30,305.17 L127.40,303.61 L128.50,303.84 L129.60,303.98 L130.70,303.51 L131.80,303.75 L132.90,304.14 L134.00,303.88 L135.10,303.72 L136.20,304.16 L137.30,304.53 L138.40,304.31 L139.50,302.49 L140.60,304.09 L141.70,303.73 L142.80,303.48 L143.90,302.74 L145.00,302.91 L146.10,302.95 L147.20,302.30 L148.30,303.47 L149.40,303.22 L150.50,302.70 L151.60,302.16 L152.70,303.17 L153.80,302.73 L154.90,302.83 L156.00,302.01 L157.10,303.25 L158.20,301.92 L159.30,302.80 L160.40,300.77 L161.50,301.74 L162.60,301.49 L163.70,300.09 L164.80,300.83 L165.90,300.39 L167.00,300.11 L168.10,300.20 L169.20,299.74 L170.30,300.17 L171.40,299.93 L172.50,299.51 L173.60,298.64 L174.70,298.47 L175.80,299.17 L176.90,297.86 L178.00,297.69 L179.10,297.07 L180.20,297.26 L181.30,297.07 L182.40,296.66 L183.50,296.11 L184.60,295.88 L185.70,295.06 L186.80,295.09 L187.90,293.94 L189.00,294.08 L190.10,294.06 L191.20,292.77 L192.30,293.24 L193.40,292.63 L194.50,291.50 L195.60,290.88 L196.70,290.51 L197.80,290.42 L198.90,290.71 L200.00,290.33 L201.10,290.45 L202.20,290.59 L203.30,288.91 L204.40,287.76 L205.50,287.61 L206.60,286.88 L207.70,287.01 L208.80,286.47 L209.90,286.66 L211.00,284.59 L212.10,284.42 L213.20,283.64 L214.30,282.91 L215.40,281.94 L216.50,282.52 L217.60,280.76 L218.70,280.28 L219.80,280.02 L220.90,279.18 L222.00,279.25 L223.10,277.08 L224.20,276.77 L225.30,275.75 L226.40,274.96 L227.50,274.28 L228.60,272.19 L229.70,269.94 L230.80,269.11 L231.90,266.57 L233.00,265.13 L234.10,262.23 L235.20,259.63 L236.30,253.46 L237.40,246.96 L238.50,241.67 L239.60,236.53 L240.70,231.20 L241.80,226.59 L242.90,226.98 L244.00,233.35 L245.10,239.56 L246.20,245.30 L247.30,249.03 L248.40,249.69 L249.50,248.55 L250.60,243.98 L251.70,240.27 L252.80,235.89 L253.90,231.05 L255.00,222.93 L256.10,216.80 L257.20,213.93 L258.30,215.74 L259.40,219.16 L260.50,226.82 L261.60,237.90 L262.70,249.35 L263.80,254.91 L264.90,259.58 L266.00,262.63 L267.10,264.20 L268.20,265.53 L269.30,266.73 L270.40,267.37 L271.50,267.04 L272.60,268.05 L273.70,267.71 L274.80,268.12 L275.90,268.65 L277.00,268.16 L278.10,268.29 L279.20,266.98 L280.30,265.68 L281.40,263.84 L282.50,259.81 L283.60,256.53 L284.70,253.13 L285.80,248.71 L286.90,242.61 L288.00,235.02 L289.10,225.91 L290.20,198.43 L291.30,184.36 L292.40,165.66 L293.50,148.27 L294.60,138.43 L295.70,141.03 L296.80,145.36 L297.90,177.30 L299.00,208.45 L300.10,242.25 L301.20,254.24 L302.30,262.37 L303.40,267.26 L304.50,270.44 L305.60,273.10 L306.70,275.18 L307.80,275.21 L308.90,277.40 L310.00,279.21 L311.10,280.36 L312.20,280.36 L313.30,282.52 L314.40,283.17 L315.50,284.16 L316.60,285.66 L317.70,285.66 L318.80,287.05 L319.90,288.08 L321.00,288.06 L322.10,288.56 L323.20,290.73 L324.30,289.87 L325.40,291.60 L326.50,291.22 L327.60,292.14 L328.70,292.26 L329.80,292.99 L330.90,293.40 L332.00,293.18 L333.10,293.96 L334.20,294.75 L335.30,294.14 L336.40,293.57 L337.50,294.85 L338.60,294.38 L339.70,295.04 L340.80,294.80 L341.90,294.81 L343.00,295.29 L344.10,295.86 L345.20,296.13 L346.30,295.64 L347.40,295.89 L348.50,296.22 L349.60,297.60 L350.70,297.32 L351.80,296.98 L352.90,297.46 L354.00,298.39 L355.10,297.37 L356.20,297.86 L357.30,298.57 L358.40,298.70 L359.50,298.80 L360.60,298.19 L361.70,298.75 L362.80,297.72 L363.90,298.81 L365.00,298.81 L366.10,298.94 L367.20,299.89 L368.30,299.33 L369.40,299.43 L370.50,299.96 L371.60,300.59 L372.70,299.42 L373.80,300.26 L374.90,299.86 L376.00,299.34 L377.10,299.90 L378.20,300.41 L379.30,300.22 L380.40,300.20 L381.50,300.49 L382.60,300.44 L383.70,300.51 L384.80,300.23 L385.90,301.07 L387.00,299.77 L388.10,301.02 L389.20,300.62 L390.30,301.41 L391.40,300.55 L392.50,300.03 L393.60,301.46 L394.70,301.77 L395.80,300.45 L396.90,301.57 L398.00,301.54 L399.10,300.95 L400.20,301.73 L401.30,301.01 L402.40,301.89 L403.50,301.96 L404.60,301.15 L405.70,301.14 L406.80,301.28 L407.90,300.27 L409.00,300.79 L410.10,301.02 L411.20,301.88 L412.30,301.00 L413.40,300.08 L414.50,299.06 L415.60,299.22 L416.70,298.62 L417.80,297.45 L418.90,297.48 L420.00,296.46 L421.10,296.38 L422.20,294.54 L423.30,296.29 L424.40,294.87 L425.50,294.15 L426.60,293.94 L427.70,293.06 L428.80,293.36 L429.90,293.63 L431.00,292.62 L432.10,291.75 L433.20,291.26 L434.30,290.76 L435.40,289.88 L436.50,289.11 L437.60,288.70 L438.70,288.07 L439.80,286.91 L440.90,286.45 L442.00,284.79 L443.10,283.52 L444.20,282.54 L445.30,282.81 L446.40,281.44 L447.50,281.13 L448.60,280.56 L449.70,280.63 L450.80,280.81 L451.90,280.01 L453.00,280.67 L454.10,282.44 L455.20,283.55 L456.30,283.88 L457.40,285.25 L458.50,286.03 L459.60,286.88 L460.70,288.77 L461.80,289.86 L462.90,290.24 L464.00,290.91 L465.10,290.89 L466.20,292.35 L467.30,292.45 L468.40,292.52 L469.50,293.81 L470.60,293.37 L471.70,293.75 L472.80,294.71 L473.90,294.59 L475.00,294.99 L476.10,296.21 L477.20,296.41 L478.30,296.53 L479.40,297.49 L480.50,297.72 L481.60,298.50 L482.70,299.00 L483.80,299.49 L484.90,299.07 L486.00,300.51 L487.10,300.60 L488.20,301.29 L489.30,301.57 L490.40,302.37 L491.50,302.40 L492.60,302.71 L493.70,303.69 L494.80,303.71 L495.90,303.77 L497.00,304.66 L498.10,305.00 L499.20,305.34 L500.30,305.74 L501.40,305.80 L502.50,306.06 L503.60,308.03 L504.70,306.39 L505.80,307.09 L506.90,307.11 L508.00,306.80 L509.10,306.89 L510.20,306.65 L511.30,306.57 L512.40,307.95 L513.50,306.65 L514.60,306.74 L515.70,307.62 L516.80,306.51 L517.90,307.81 L519.00,307.13 L520.10,307.82 L521.20,306.79 L522.30,307.02 L523.40,307.89 L524.50,307.56 L525.60,307.60" stroke="#000000"/>
</g>
<line x1="308" y1="12.4" x2="310" y2="389.6" stroke="#9030a8" stroke-width="1.3" stroke-dasharray="5.3 5.32"/>

<g stroke="#333" stroke-width="1.4">
<line x1="174.3" y1="394" x2="174.3" y2="385"/>
<line x1="291.7" y1="394" x2="291.7" y2="385"/>
<line x1="409.1" y1="394" x2="409.1" y2="385"/>
<line x1="115.6" y1="394" x2="115.6" y2="389"/>
<line x1="233" y1="394" x2="233" y2="389"/>
<line x1="350.4" y1="394" x2="350.4" y2="389"/>
<line x1="467.8" y1="394" x2="467.8" y2="389"/>
</g>
<g font-size="25" text-anchor="middle" fill="#000">
<text transform="translate(58,423.3) scale(1,1.05)">10</text>
<text transform="translate(174.8,423.3) scale(1,1.05)">15</text>
<text transform="translate(291.6,423.3) scale(1,1.05)">20</text>
<text transform="translate(408.5,423.3) scale(1,1.05)">25</text>
<text transform="translate(526.5,423.3) scale(1,1.05)">30</text>
</g>
<g font-size="29"><text transform="translate(256,457.3) scale(1,1.0)">2</text>
<text transform="translate(277.7,457.3) scale(1,0.7)">θ</text>
<text transform="translate(299.6,457.2) scale(1,0.89)">(º)</text></g>
<text transform="translate(34.6,213.3) rotate(-90)" text-anchor="middle" font-size="29.2">rel. int. (a.u.)</text>
<g class="b" font-size="24">
<text fill="#ff8000" stroke="#ff8000" stroke-width="0.35" transform="translate(64.5,140.1) scale(1,1.08)">KCNT8</text>
<text fill="#ff00ff" stroke="#ff00ff" stroke-width="0.35" transform="translate(64.5,177.7) scale(1,1.08)">KCNT4</text>
<text fill="#0000ff" stroke="#0000ff" stroke-width="0.35" transform="translate(64.5,229.1) scale(1,1.08)">KCNT2</text>
<text fill="#008000" stroke="#008000" stroke-width="0.35" transform="translate(64.5,272.6) scale(1,1.08)">KCNT1</text>
<text fill="#ff0000" stroke="#ff0000" stroke-width="0.35" transform="translate(64.5,318.5) scale(1,1.08)">KCNT05</text>
<text fill="#000" stroke="#000" stroke-width="0.35" transform="translate(64.5,371.3) scale(1,1.08)">PVDF</text>
</g>
<g class="b" font-size="24.3" fill="#000" stroke="#000" stroke-width="0.35">
<text transform="translate(170.9,101.6) scale(1.01,1.04)">(100)</text>
<text transform="translate(213.6,71.9) scale(1.025,1.04)">(020)</text>
<text transform="translate(236.2,33.9) scale(1.025,1.04)">(110)</text>
<text transform="translate(418.4,345.2) scale(1.035,1.04)">(021)</text>
</g>
<text class="b" font-size="26.5" fill="#800080" stroke="#800080" stroke-width="0.35" transform="translate(320.4,57.9) scale(1.035,0.95)">(200)</text>
<g font-size="13" fill="#000" font-weight="bold">
<text transform="translate(224.6,88.9) scale(1.15,0.92)">α</text>
<text transform="translate(267.4,58.9) scale(1.15,0.92)">α</text>
<text transform="translate(289.8,20.8) scale(1.15,0.92)">α</text>
<text transform="translate(472.6,331.6) scale(1.15,0.92)">α</text>
</g>
<text font-size="16" font-weight="bold" fill="#800080" transform="translate(379.5,43.2) scale(0.97,0.95)">β</text>
</svg>
</body></html>
